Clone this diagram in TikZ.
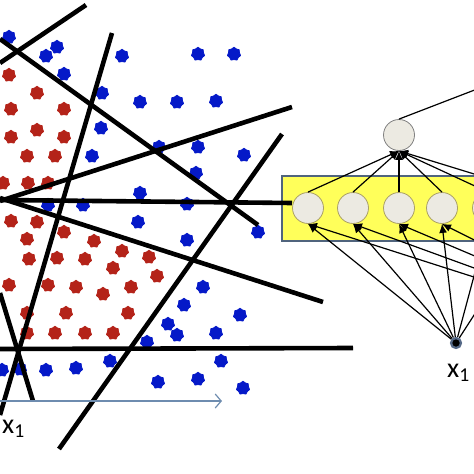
\documentclass[tikz,border=0pt]{standalone}
\usepackage{fontspec}
\setmainfont{Carlito}
\usetikzlibrary{shapes.geometric,arrows.meta}
\definecolor{dotred}{RGB}{180,35,25}
\definecolor{dotblue}{RGB}{5,25,200}
\definecolor{boxyellow}{RGB}{255,255,90}
\definecolor{boxedge}{RGB}{80,100,125}
\definecolor{nodegrey}{RGB}{236,234,226}
\definecolor{nodeedge}{RGB}{170,160,100}
\definecolor{inedge}{RGB}{85,105,135}
\definecolor{axisblue}{RGB}{110,140,175}
\begin{document}
\begin{tikzpicture}
  [x=1pt,y=-1pt,
   rdot/.style={star,star points=7,star point ratio=1.22,minimum size=13.5pt,inner sep=0pt,fill=dotred,draw=dotred,line width=0.8pt,line join=round},
   bdot/.style={rdot,fill=dotblue,draw=dotblue},
   sepline/.style={line width=4.6pt},
   unit/.style={circle,minimum size=31pt,inner sep=0pt,fill=nodegrey,draw=nodeedge,line width=0.8pt},
   wire/.style={line width=1.2pt,-{Latex[length=9pt,width=8pt]}},
   lbl/.style={font=\fontsize{28}{30}\selectfont,inner sep=0pt}]
  \useasboundingbox (0,0) rectangle (474,474);
  \clip (0,0) rectangle (474,474);

  % the two classes
  \foreach \px/\py [count=\i] in {9/75,37/93,11/109,64/109,37/130,11/137,64/137,27/156,55/156,3/183,28/183,48/183,
      11/221,37/222,64/232,27/239,94/241,122/251,29/259,57/258,85/259,149/257,113/268,157/276,
      9/285,48/285,76/287,131/287,103/294,27/313,66/313,128/313,27/333,55/333,85/333,113/333}
    \node[rdot] (r\i) at (\px,\py) {};
  \foreach \px/\py [count=\i] in {9/37,57/47,46/56,64/74,122/56,198/54,234/54,102/93,140/102,177/102,216/101,
      101/128,159/147,198/147,244/155,92/156,196/173,140/193,48/205,83/205,187/204,138/222,258/232,
      187/240,203/287,184/305,240/315,168/324,177/335,216/333,147/342,2/370,20/369,46/370,76/368,
      110/361,221/361,158/382,198/379,243/388}
    \node[bdot] (b\i) at (\px,\py) {};

  % hidden layer box
  \draw[fill=boxyellow,draw=boxedge,line width=2pt] (282,176) rectangle (620,241);

  % separating lines
  \foreach \xa/\ya/\xb/\yb in {0/63/86/5, 0/39/258/225, 112/33/0/415, 59/449/282/134,
      0/201/292/107, 0/200/292/203, 0/198/323/302, 0/349/353/348, 0/293/33/401}
    \draw[sepline] (\xa,\ya) -- (\xb,\yb);

  % input axis
  \coordinate (axs) at (0,401);
  \coordinate (axe) at (222,401);
  \draw[axisblue,line width=1.2pt,-{Straight Barb[length=6pt,width=14pt]}] (axs) -- (axe);
  \node[lbl,anchor=base west] (xlab) at (2,433) {x\textsubscript{1}};

  % network
  \node[unit,draw=gray] (out) at (399,135) {};
  \foreach \i/\x in {1/308,2/353,3/399,4/442,5/488,6/533}
    \node[unit] (h\i) at (\x,208) {};
  \node[circle,fill=black,draw=inedge,line width=2.2pt,minimum size=10pt,inner sep=0pt] (x1) at (456,343) {};
  \node[lbl,anchor=base west] (x1lab) at (447,377) {x\textsubscript{1}};
  \coordinate (x2) at (680,343);
  \coordinate (top) at (620,34);

  \foreach \i in {1,...,6}
    \draw[wire] (x1) -- (h\i.south);
  \foreach \i in {1,...,6}
    \draw[wire] (x2) -- (h\i.south);
  \foreach \i in {1,...,6}
    \draw[wire] (h\i.north) -- (out.south);
  \draw[line width=1.2pt] (out.north) -- (top);

\end{tikzpicture}
\end{document}
